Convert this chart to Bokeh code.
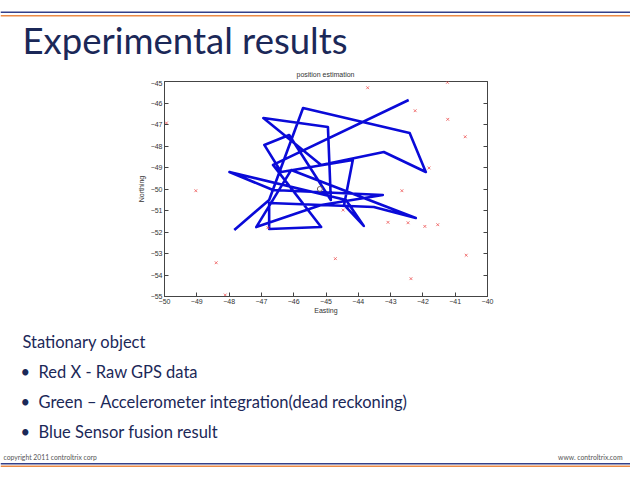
from bokeh.plotting import figure
from bokeh.layouts import column
from bokeh.models import FixedTicker, LinearAxis, Range1d
from bokeh.core.properties import value
from bokeh.embed import file_html
from bokeh.resources import INLINE

# ---- data ----
gps_east = [-49.94, -49.03, -48.40, -48.12, -46.80, -43.71, -41.24, -42.24, -41.23,
            -40.69, -41.81, -42.65, -44.47, -43.08, -42.46, -41.94, -41.54, -40.66,
            -44.71, -42.37]
gps_north = [-46.93, -50.08, -53.43, -54.93, -51.80, -45.29, -45.04, -46.36, -46.76,
             -47.57, -49.02, -50.08, -50.98, -51.55, -51.57, -51.74, -51.66, -53.08,
             -53.24, -54.17]

fusion_east = [-47.84, -46.76, -45.71, -42.41, -41.91, -43.21, -45.15, -46.94, -44.94,
               -44.85, -46.14, -46.91, -46.39, -44.17, -44.44, -43.83, -44.38, -47.99,
               -46.64, -43.24, -45.15, -47.16, -46.08, -42.22, -43.52, -46.76, -46.76,
               -45.15, -46.64, -42.44]
fusion_north = [-51.91, -50.51, -46.23, -47.40, -49.21, -48.28, -48.88, -46.70, -47.12,
                -50.51, -47.49, -47.95, -49.21, -48.65, -50.74, -51.72, -50.51, -49.21,
                -50.05, -50.28, -50.74, -51.77, -49.12, -51.35, -50.84, -50.65, -51.86,
                -51.77, -48.88, -45.86]

start_east = [-45.19]
start_north = [-50.0]

x_ticks = [-50, -49, -48, -47, -46, -45, -44, -43, -42, -41, -40]
y_ticks = [-55, -54, -53, -52, -51, -50, -49, -48, -47, -46, -45]

slide_title = "Experimental results"
chart_title = "position estimation"
intro = "Stationary object"
bullets = ["Red X - Raw GPS data",
           "Green \u2013 Accelerometer integration(dead reckoning)",
           "Blue Sensor fusion result"]
footer_left = "copyright 2011 controltrix corp"
footer_right = "www. controltrix.com"

W = 630
TOP_H, CHART_H, BOT_H = 80, 250, 140
navy = "#1b2858"
rule_blue = "#34408a"
rule_orange = "#ec8a45"
tick_font = "Liberation Sans"


def blank(height, y0, y1):
    f = figure(width=W, height=height, output_backend="svg", toolbar_location=None,
               x_range=Range1d(0, W), y_range=Range1d(y1, y0),
               min_border=0, min_border_left=0, min_border_right=0,
               min_border_top=0, min_border_bottom=0)
    f.axis.visible = False
    f.grid.visible = False
    f.outline_line_color = None
    f.background_fill_color = "white"
    f.border_fill_color = "white"
    return f


# ---- top strip: rules + slide title + chart title ----
top = blank(TOP_H, 0, TOP_H)
top.quad(left=[0, 0], right=[W, W], top=[11, 14.5], bottom=[12.5, 16],
         fill_color=[rule_blue, rule_orange], line_color=None)
top.text(x=[22], y=[39], text=[slide_title], text_font=value("Lato"),
         text_font_size="36.5px", text_color=navy, text_baseline="alphabetic")
top.text(x=[325], y=[74], text=[chart_title], text_font=value(tick_font),
         text_font_size="7px", text_color="#333333", text_align="center",
         text_baseline="alphabetic")

# ---- chart ----
p = figure(width=W, height=CHART_H, output_backend="svg", toolbar_location=None,
           x_range=Range1d(-50, -40), y_range=Range1d(-55, -45),
           min_border_left=164, min_border_right=W - 487,
           min_border_top=81 - TOP_H, min_border_bottom=CHART_H - (296 - TOP_H))
p.xgrid.visible = False
p.ygrid.visible = False
p.outline_line_color = "#444444"
p.background_fill_color = "white"
p.border_fill_color = "white"

for ax, ticks in ((p.xaxis[0], x_ticks), (p.yaxis[0], y_ticks)):
    ax.ticker = FixedTicker(ticks=ticks)
    ax.major_tick_in = 4
    ax.major_tick_out = 0
    ax.minor_tick_line_color = None
    ax.axis_line_color = "#444444"
    ax.major_tick_line_color = "#444444"
    ax.major_label_text_font = tick_font
    ax.major_label_text_font_size = "7px"
    ax.major_label_text_color = "#333333"
    ax.major_label_standoff = 2
    ax.axis_label_text_font = tick_font
    ax.axis_label_text_font_size = "7px"
    ax.axis_label_text_font_style = "normal"
    ax.axis_label_text_color = "#333333"
    ax.axis_label_standoff = 3
p.xaxis[0].axis_label = "Easting"
p.xaxis[0].axis_label_standoff = 0
p.yaxis[0].axis_label = "Northing"

right_ax = LinearAxis(ticker=FixedTicker(ticks=y_ticks),
                      major_label_overrides={t: "" for t in y_ticks})
right_ax.major_tick_in = 4
right_ax.major_tick_out = 0
right_ax.minor_tick_line_color = None
right_ax.axis_line_color = "#444444"
right_ax.major_tick_line_color = "#444444"
right_ax.major_label_text_font_size = "7px"
p.add_layout(right_ax, "right")

p.line(fusion_east, fusion_north, line_color="#0a0ad8", line_width=2.6,
       line_join="round")
p.scatter(gps_east, gps_north, marker="x", size=4, line_color="#ee5555",
          line_width=1, line_alpha=0.8)
p.scatter(start_east, start_north, marker="circle", size=5, fill_color=None,
          line_color="#776655", line_width=1)

# ---- bottom strip: bullets + footer + rules ----
y0 = TOP_H + CHART_H
bot = blank(BOT_H, y0, y0 + BOT_H)
body = "16.5px"
bot.text(x=[22], y=[341], text=[intro], text_font=value("Lato"),
         text_font_size=body, text_color=navy, text_baseline="alphabetic")
by = [371, 401, 431]
bot.text(x=[20, 20, 20], y=by, text=["\u2022"] * 3, text_font=value("Lato"),
         text_font_size=body, text_color=navy, text_baseline="alphabetic")
bot.text(x=[38, 38, 38], y=by, text=bullets, text_font=value("Lato"),
         text_font_size=body, text_color=navy, text_baseline="alphabetic")
bot.text(x=[3], y=[456], text=[footer_left], text_font=value("Lato"),
         text_font_size="6.8px", text_color="#555555", text_baseline="alphabetic")
bot.text(x=[622], y=[456], text=[footer_right], text_font=value("Lato"),
         text_font_size="6.8px", text_color="#555555", text_align="right",
         text_baseline="alphabetic")
bot.quad(left=[0, 0], right=[W, W], top=[462.5, 465], bottom=[464, 466.5],
         fill_color=[rule_blue, rule_orange], line_color=None)

layout = column(column(top), column(p), column(bot), spacing=0)
open("out.html", "w").write(file_html(layout, INLINE))
